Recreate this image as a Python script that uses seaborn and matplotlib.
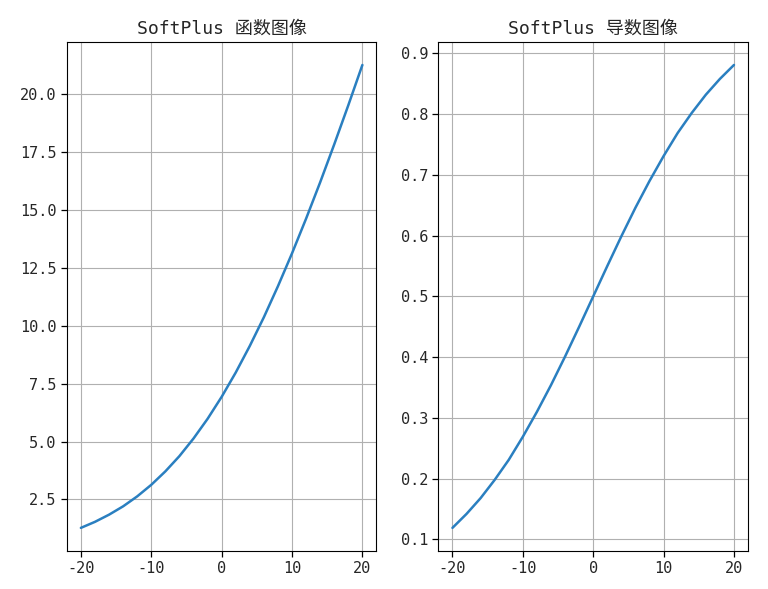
import numpy as np
import pandas as pd
import seaborn as sns
import matplotlib.pyplot as plt

# values
x = [-20, -18, -16, -14, -12, -10, -8, -6, -4, -2, 0, 2, 4, 6, 8, 10, 12, 14, 16, 18, 20]
softplus = [1.27, 1.53, 1.84, 2.20, 2.63, 3.13, 3.71, 4.37, 5.13, 5.98, 6.93,
            7.98, 9.13, 10.37, 11.71, 13.13, 14.63, 16.20, 17.84, 19.53, 21.27]
deriv = [0.119, 0.142, 0.168, 0.198, 0.231, 0.269, 0.310, 0.354, 0.401, 0.450, 0.500,
         0.550, 0.599, 0.646, 0.690, 0.731, 0.769, 0.802, 0.832, 0.858, 0.881]
titles = ["SoftPlus 函数图像", "SoftPlus 导数图像"]

sns.set_style("ticks")
plt.rcParams['font.family'] = ['DejaVu Sans Mono', 'Noto Sans CJK SC']
plt.rcParams['axes.unicode_minus'] = False

df = pd.DataFrame({'x': x, 'f': softplus, 'd': deriv})

fig, axes = plt.subplots(1, 2, figsize=(7.68, 5.89), dpi=100)
plt.subplots_adjust(left=0.087, right=0.974, top=0.929, bottom=0.0645, wspace=0.2)

for ax, col, title in zip(axes, ['f', 'd'], titles):
    sns.lineplot(data=df, x='x', y=col, ax=ax, color='#2a7fc0', linewidth=1.8)
    ax.set_title(title, fontsize=13)
    ax.set_xlabel('')
    ax.set_ylabel('')
    ax.grid(True, color='#b0b0b0', linewidth=0.8)
    ax.set_xticks([-20, -10, 0, 10, 20])
    ax.tick_params(labelsize=11, length=4, width=0.9, color='black',
                   direction='out', bottom=True, left=True)
    for s in ax.spines.values():
        s.set_color('black')

axes[1].set_yticks([0.1, 0.2, 0.3, 0.4, 0.5, 0.6, 0.7, 0.8, 0.9])

plt.savefig('out.png')
